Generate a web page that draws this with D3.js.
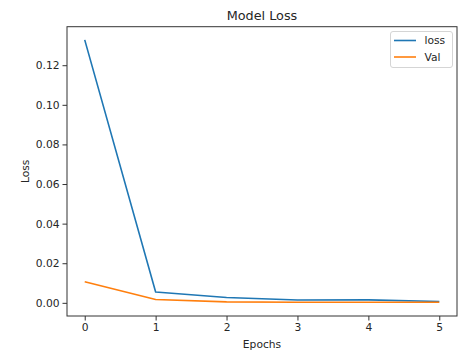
<!DOCTYPE html>
<html><head><meta charset="utf-8">
<script src="https://cdn.jsdelivr.net/npm/d3@7"></script>
<style>body{margin:0;background:#fff}svg{display:block}text{font-family:"DejaVu Sans",sans-serif;fill:#262626}</style>
</head><body>
<svg id="c" width="474" height="355"></svg>
<script>
const epochs = [0, 1, 2, 3, 4, 5];
const lossValues = [0.1328, 0.0055, 0.0027, 0.0014, 0.0015, 0.0007];
const valValues = [0.0106, 0.0017, 0.0005, 0.0003, 0.0003, 0.0003];
const yTicks = [0.00, 0.02, 0.04, 0.06, 0.08, 0.10, 0.12];
const xTicks = [0, 1, 2, 3, 4, 5];
const seriesNames = ["loss", "Val"];
const colors = ["#1f77b4", "#ff7f0e"];

const svg = d3.select("#c");
const L = 67, R = 457, T = 26.7, B = 316;
const x = d3.scaleLinear().domain([-0.25, 5.25]).range([L, R]);
const y = d3.scaleLinear().domain([-0.00665, 0.13945]).range([B, T]);

const fs = 10.7;
const xa = svg.append("g").attr("transform", `translate(0,${B})`)
  .call(d3.axisBottom(x).tickValues(xTicks).tickFormat(d3.format("d")).tickSize(4.5).tickPadding(3));
const ya = svg.append("g").attr("transform", `translate(${L},0)`)
  .call(d3.axisLeft(y).tickValues(yTicks).tickFormat(d3.format(".2f")).tickSize(4.5).tickPadding(3));
[xa, ya].forEach(a => {
  a.select(".domain").remove();
  a.selectAll("line").attr("stroke", "#333").attr("stroke-width", 1);
  a.selectAll("text").attr("font-size", fs).attr("font-family", "DejaVu Sans").attr("fill", "#262626");
});

const line = d3.line().x((d, i) => x(epochs[i])).y(d => y(d));
[lossValues, valValues].forEach((vals, k) => {
  svg.append("path").datum(vals).attr("d", line).attr("fill", "none")
    .attr("stroke", colors[k]).attr("stroke-width", 1.6).attr("stroke-linejoin", "round");
});

svg.append("rect").attr("x", L).attr("y", T).attr("width", R - L).attr("height", B - T)
  .attr("fill", "none").attr("stroke", "#333").attr("stroke-width", 1);

svg.append("text").attr("x", (L + R) / 2).attr("y", 19.5).attr("text-anchor", "middle")
  .attr("font-size", 12.8).text("Model Loss");
svg.append("text").attr("x", (L + R) / 2).attr("y", 347.5).attr("text-anchor", "middle")
  .attr("font-size", fs).text("Epochs");
svg.append("text").attr("transform", `translate(29,${(T + B) / 2}) rotate(-90)`).attr("text-anchor", "middle")
  .attr("font-size", fs).text("Loss");

const lg = svg.append("g");
lg.append("rect").attr("x", 390.5).attr("y", 31.5).attr("width", 62).attr("height", 36).attr("rx", 2.5)
  .attr("fill", "#fff").attr("fill-opacity", 0.8).attr("stroke", "#d5d5d5").attr("stroke-width", 1);
seriesNames.forEach((n, k) => {
  const yy = 40.5 + k * 16.5;
  lg.append("line").attr("x1", 394).attr("x2", 416).attr("y1", yy).attr("y2", yy)
    .attr("stroke", colors[k]).attr("stroke-width", 1.6);
  lg.append("text").attr("x", 424.5).attr("y", yy + 3.8).attr("font-size", fs).text(n);
});
</script>
</body></html>
